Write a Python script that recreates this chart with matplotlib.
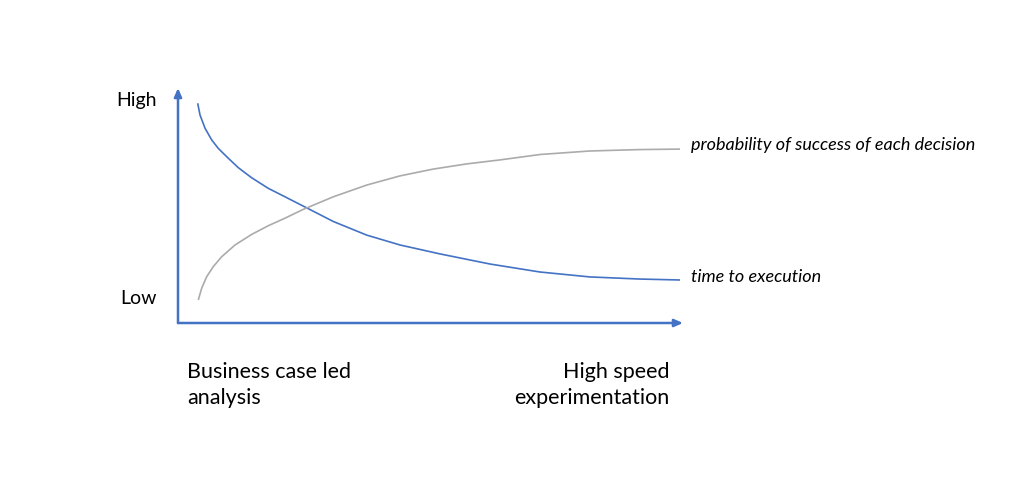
import matplotlib
matplotlib.use('Agg')
import matplotlib.pyplot as plt

plt.rcParams['font.family'] = ['Lato', 'DejaVu Sans']

# values, axis units 0..100 (low..high)
time_x = [3.9, 4.36, 5.35, 6.67, 7.98, 9.96, 11.94, 14.59, 17.88, 21.19, 24.75, 30.75,
          37.37, 43.96, 51.88, 61.78, 71.68, 81.58, 91.49, 99.41]
time_y = [93.5, 88.5, 82.9, 77.9, 74.3, 70.1, 66.1, 61.8, 57.3, 53.7, 49.8, 43.2,
          37.4, 33.2, 29.4, 25.1, 21.7, 19.6, 18.7, 18.3]

prob_x = [4.02, 4.69, 5.68, 6.99, 8.65, 11.29, 14.59, 17.88, 21.19, 24.75, 30.75,
          37.37, 43.96, 50.55, 57.17, 63.76, 71.68, 81.58, 91.49, 99.41]
prob_y = [9.8, 14.8, 19.7, 24.0, 28.2, 33.2, 37.7, 41.4, 44.6, 48.3, 53.7,
          58.7, 62.6, 65.5, 67.7, 69.4, 71.7, 73.2, 73.8, 74.0]

series_labels = ['time to execution', 'probability of success of each decision']
y_labels = ['Low', 'High']
x_labels = ['Business case led\nanalysis', 'High speed\nexperimentation']

blue = '#4472C4'
grey = '#ABABAB'

W, H = 1022, 486
fig = plt.figure(figsize=(W / 100, H / 100), dpi=100)
# axes box: origin at (178, 323) px, arrows end at x=683 / y=88
ax = fig.add_axes([178 / W, (H - 323) / H, (683 - 178) / W, (323 - 88) / H])
ax.set_xlim(0, 100)
ax.set_ylim(0, 100)
for s in ax.spines.values():
    s.set_visible(False)
ax.set_xticks([])
ax.set_yticks([])
ax.patch.set_alpha(0)

# axis arrows
arrow = dict(arrowstyle='-|>,head_length=0.5,head_width=0.22',
             color=blue, lw=1.8, shrinkA=0, shrinkB=0)
ax.annotate('', xy=(1, 0), xytext=(0, 0), xycoords='axes fraction', arrowprops=arrow)
ax.annotate('', xy=(0, 1), xytext=(0, 0), xycoords='axes fraction', arrowprops=arrow)

ax.plot(time_x, time_y, color=blue, lw=1.2, solid_capstyle='butt', solid_joinstyle='round')
ax.plot(prob_x, prob_y, color=grey, lw=1.2, solid_capstyle='butt', solid_joinstyle='round')

# curve labels
ax.text(101.6, time_y[-1] + 1.1, series_labels[0], fontsize=13, style='italic',
        ha='left', va='center', clip_on=False)
ax.text(101.6, prob_y[-1] + 1.6, series_labels[1], fontsize=13, style='italic',
        ha='left', va='center', clip_on=False)

# y ends
ax.text(-4.2, 10.6, y_labels[0], fontsize=14, ha='right', va='center', clip_on=False)
ax.text(-4.2, 94.5, y_labels[1], fontsize=14, ha='right', va='center', clip_on=False)

# x ends
ax.text(1.8, -16.5, x_labels[0], fontsize=15.5, ha='left', va='top',
        linespacing=1.4, clip_on=False)
ax.text(97.4, -16.5, x_labels[1], fontsize=15.5, ha='right', va='top',
        multialignment='right', linespacing=1.4, clip_on=False)

fig.savefig('out.png', dpi=100)
